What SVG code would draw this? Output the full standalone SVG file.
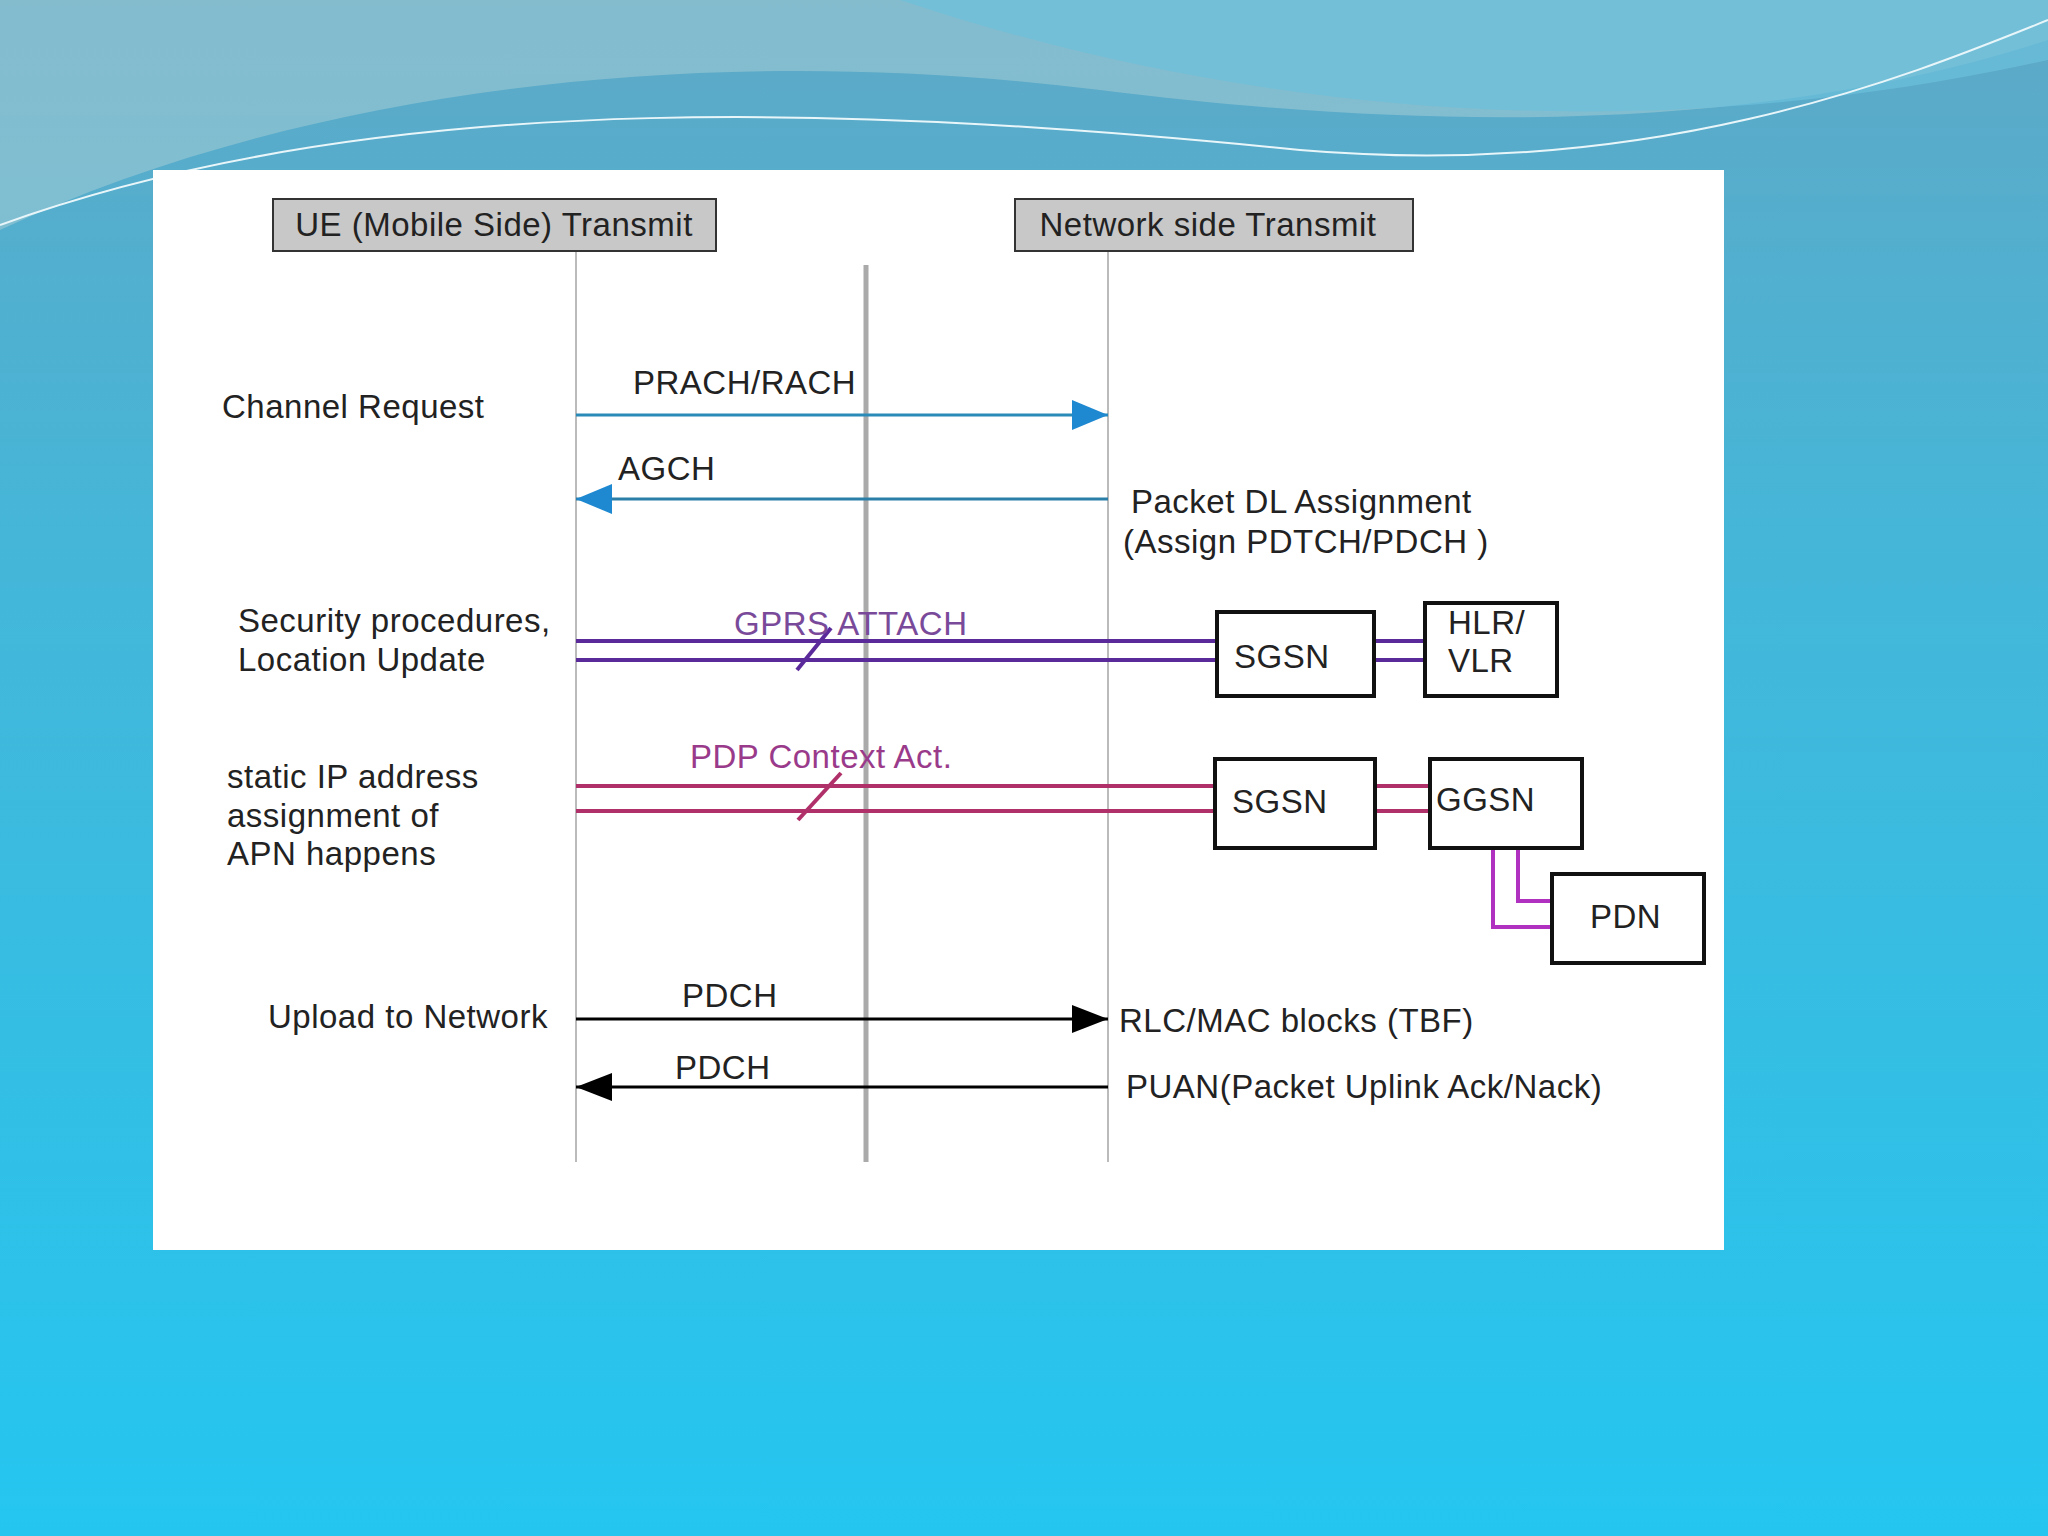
<svg xmlns="http://www.w3.org/2000/svg" width="2048" height="1536" viewBox="0 0 2048 1536">
<defs>
<linearGradient id="bg" x1="0" y1="0" x2="0" y2="1">
<stop offset="0" stop-color="#5fa8c6"/><stop offset="0.35" stop-color="#45b6d8"/><stop offset="1" stop-color="#24c6f0"/>
</linearGradient>
<marker id="ab" viewBox="0 0 10 10" refX="10" refY="5" markerWidth="36" markerHeight="30" markerUnits="userSpaceOnUse" orient="auto" preserveAspectRatio="none"><path d="M0,0 L10,5 L0,10 z" fill="#1e88d0"/></marker>
<marker id="ak" viewBox="0 0 10 10" refX="10" refY="5" markerWidth="36" markerHeight="28" markerUnits="userSpaceOnUse" orient="auto" preserveAspectRatio="none"><path d="M0,0 L10,5 L0,10 z" fill="#000"/></marker>
<style>
text{font-family:"Liberation Sans",Arial,sans-serif;font-size:33px;letter-spacing:0.5px;fill:#222}
.box{fill:#fff;stroke:#111;stroke-width:4}
.hdr{fill:#c8c8c8;stroke:#333;stroke-width:2}
.life{stroke:#bbb;stroke-width:2}
.pur{stroke:#5a2a9a;stroke-width:4;fill:none}
.mag{stroke:#b0306a;stroke-width:4;fill:none}
.pdn{stroke:#b030c0;stroke-width:4;fill:none}
</style>
</defs>
<rect width="2048" height="1536" fill="url(#bg)"/>
<path d="M0,230 C300,90 700,40 1100,90 C1500,140 1800,120 2048,40 L2048,0 L0,0 z" fill="#9cc9d4" opacity="0.6"/>
<path d="M900,0 C1200,100 1600,160 2048,60 L2048,0 z" fill="#6cc0dc" opacity="0.7"/>
<path d="M0,225 C400,80 900,110 1300,150 C1650,180 1900,80 2048,20" stroke="#e8f6fa" stroke-width="2" fill="none"/>
<rect x="153" y="170" width="1571" height="1080" fill="#fff"/>

<g id="lifelines">
<line class="life" x1="576" y1="251" x2="576" y2="1162"/>
<line x1="866" y1="265" x2="866" y2="1162" stroke="#aaa" stroke-width="5"/>
<line class="life" x1="1108" y1="251" x2="1108" y2="1162"/>
</g>
<g id="ue"><rect class="hdr" x="273" y="199" width="443" height="52"/><text x="494" y="236" text-anchor="middle">UE (Mobile Side) Transmit</text></g>
<g id="net"><rect class="hdr" x="1015" y="199" width="398" height="52"/><text x="1208" y="236" text-anchor="middle">Network side Transmit</text></g>

<g id="connectors">
<line x1="576" y1="415" x2="1108" y2="415" stroke="#2a8ab8" stroke-width="3" marker-end="url(#ab)"/>
<line x1="1108" y1="499" x2="576" y2="499" stroke="#2a7ea8" stroke-width="3" marker-end="url(#ab)"/>
<line class="pur" x1="576" y1="641" x2="1217" y2="641"/>
<line class="pur" x1="576" y1="660" x2="1217" y2="660"/>
<line class="pur" x1="797" y1="670" x2="831" y2="628" stroke-width="3"/>
<line class="pur" x1="1374" y1="641" x2="1425" y2="641"/>
<line class="pur" x1="1374" y1="660" x2="1425" y2="660"/>
<line class="mag" x1="576" y1="786" x2="1215" y2="786"/>
<line class="mag" x1="576" y1="811" x2="1215" y2="811"/>
<line class="mag" x1="798" y1="820" x2="841" y2="773" stroke-width="3"/>
<line class="mag" x1="1375" y1="786" x2="1430" y2="786"/>
<line class="mag" x1="1375" y1="811" x2="1430" y2="811"/>
<path class="pdn" d="M1493,848 V927 H1552"/>
<path class="pdn" d="M1518,848 V901 H1552"/>
<line x1="576" y1="1019" x2="1108" y2="1019" stroke="#000" stroke-width="3" marker-end="url(#ak)"/>
<line x1="1108" y1="1087" x2="576" y2="1087" stroke="#000" stroke-width="3" marker-end="url(#ak)"/>
</g>

<g id="sgsn1"><rect class="box" x="1217" y="612" width="157" height="84"/><text x="1234" y="668">SGSN</text></g>
<g id="hlr"><rect class="box" x="1425" y="603" width="132" height="93"/><text x="1448" y="634">HLR/</text><text x="1448" y="672">VLR</text></g>
<g id="sgsn2"><rect class="box" x="1215" y="759" width="160" height="89"/><text x="1232" y="813">SGSN</text></g>
<g id="ggsn"><rect class="box" x="1430" y="759" width="152" height="89"/><text x="1436" y="811">GGSN</text></g>
<g id="pdn"><rect class="box" x="1552" y="874" width="152" height="89"/><text x="1590" y="928">PDN</text></g>

<g id="labels">
<text x="633" y="394">PRACH/RACH</text>
<text x="222" y="418">Channel Request</text>
<text x="618" y="480">AGCH</text>
<text x="1131" y="513">Packet DL Assignment</text>
<text x="1123" y="553">(Assign PDTCH/PDCH )</text>
<text x="238" y="632">Security procedures,</text>
<text x="238" y="671">Location Update</text>
<text x="734" y="635" style="fill:#7a4a9a">GPRS ATTACH</text>
<text x="690" y="768" style="fill:#9a3a8a">PDP Context Act.</text>
<text x="227" y="788">static IP address</text>
<text x="227" y="827">assignment of</text>
<text x="227" y="865">APN happens</text>
<text x="682" y="1007">PDCH</text>
<text x="268" y="1028">Upload to Network</text>
<text x="1119" y="1032">RLC/MAC blocks (TBF)</text>
<text x="675" y="1079">PDCH</text>
<text x="1126" y="1098">PUAN(Packet Uplink Ack/Nack)</text>
</g>
</svg>
